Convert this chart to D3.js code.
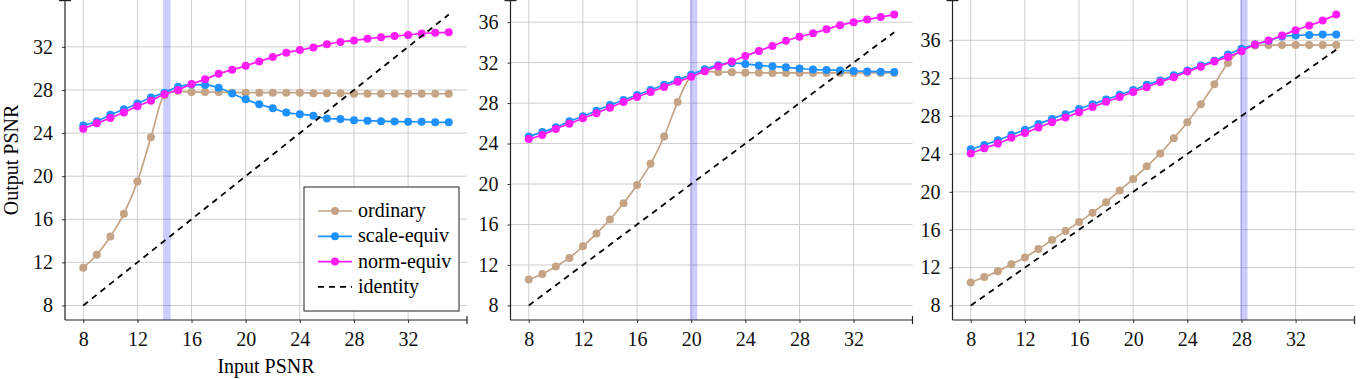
<!DOCTYPE html>
<html>
<head>
<meta charset="utf-8">
<script src="https://cdn.jsdelivr.net/npm/d3@7"></script>
<style>
  body { margin: 0; background: #fff; }
</style>
</head>
<body>
<div id="chart-container"></div>
<script>
// Input PSNR values (x axis)
var inputPsnr = [8, 9, 10, 11, 12, 13, 14, 15, 16, 17, 18, 19, 20, 21, 22, 23, 24, 25, 26, 27, 28, 29, 30, 31, 32, 33, 34, 35];
var identityX = [8, 35];
var identityY = [8, 35];

// panel 1 (trained at 14)
var ordinary1 = [11.5, 12.7, 14.4, 16.5, 19.5, 23.6, 27.5, 27.9, 27.8, 27.8, 27.8, 27.75, 27.75, 27.75, 27.75, 27.75, 27.75, 27.7, 27.7, 27.7, 27.65, 27.65, 27.65, 27.65, 27.65, 27.65, 27.65, 27.65];
var scale1 = [24.7, 25.1, 25.7, 26.2, 26.75, 27.3, 27.75, 28.3, 28.5, 28.47, 28.2, 27.68, 27.13, 26.67, 26.3, 25.9, 25.75, 25.6, 25.35, 25.3, 25.2, 25.15, 25.1, 25.07, 25.05, 25.05, 25.0, 25.0];
var norm1 = [24.4, 24.9, 25.4, 25.9, 26.5, 27.0, 27.6, 28.0, 28.55, 29.0, 29.5, 29.87, 30.25, 30.65, 31.05, 31.45, 31.7, 31.95, 32.25, 32.45, 32.6, 32.75, 32.9, 33.0, 33.1, 33.25, 33.3, 33.35];

// panel 2 (trained at 20)
var ordinary2 = [10.57, 11.1, 11.85, 12.7, 13.85, 15.1, 16.5, 18.1, 19.9, 22.0, 24.7, 28.1, 30.65, 31.15, 31.05, 31.05, 31.0, 31.0, 30.98, 30.98, 30.98, 30.98, 30.98, 30.98, 30.98, 30.98, 30.98, 30.98];
var scale2 = [24.7, 25.13, 25.6, 26.2, 26.7, 27.25, 27.8, 28.3, 28.8, 29.3, 29.8, 30.3, 30.8, 31.35, 31.75, 31.96, 31.86, 31.72, 31.63, 31.53, 31.43, 31.33, 31.27, 31.23, 31.17, 31.13, 31.1, 31.07];
var norm2 = [24.45, 24.85, 25.45, 25.95, 26.5, 27.0, 27.55, 28.1, 28.6, 29.1, 29.6, 30.1, 30.6, 31.15, 31.65, 32.1, 32.65, 33.15, 33.65, 34.15, 34.55, 34.9, 35.3, 35.7, 36.0, 36.25, 36.5, 36.75];

// panel 3 (trained at 28)
var ordinary3 = [10.43, 11.0, 11.6, 12.35, 13.07, 13.95, 14.9, 15.85, 16.8, 17.8, 18.9, 20.15, 21.35, 22.7, 24.05, 25.65, 27.35, 29.25, 31.35, 33.6, 35.0, 35.45, 35.5, 35.5, 35.5, 35.5, 35.5, 35.5];
var scale3 = [24.5, 24.95, 25.45, 26.0, 26.55, 27.15, 27.7, 28.2, 28.75, 29.25, 29.75, 30.25, 30.75, 31.3, 31.75, 32.3, 32.8, 33.35, 33.85, 34.5, 35.1, 35.55, 35.95, 36.4, 36.5, 36.57, 36.6, 36.6];
var norm3 = [24.05, 24.6, 25.1, 25.7, 26.2, 26.8, 27.35, 27.85, 28.4, 28.95, 29.5, 30.0, 30.55, 31.05, 31.6, 32.1, 32.7, 33.2, 33.75, 34.25, 34.85, 35.55, 35.97, 36.5, 37.07, 37.56, 38.08, 38.72];

var trainedAt = [14, 20, 28];
var xTicks = [8, 12, 16, 20, 24, 28, 32];
var yTicks1 = [8, 12, 16, 20, 24, 28, 32];
var yTicks2 = [8, 12, 16, 20, 24, 28, 32, 36];
var yTicks3 = [8, 12, 16, 20, 24, 28, 32, 36];

var seriesNames = ["ordinary", "scale-equiv", "norm-equiv"];
var seriesColors = ["#c4a484", "#1e90ff", "#ff1cf5"];

var serif = "Liberation Serif, DejaVu Serif, serif";
var fontSize = "20px";

var svg = d3.select("#chart-container")
    .append("svg")
    .attr("width", 1360)
    .attr("height", 379)
    .style("font-family", serif);

var panels = [
    {left: 65, series: [ordinary1, scale1, norm1], band: trainedAt[0], yTicks: yTicks1, legend: true},
    {left: 510.5, series: [ordinary2, scale2, norm2], band: trainedAt[1], yTicks: yTicks2, legend: false},
    {left: 952.5, series: [ordinary3, scale3, norm3], band: trainedAt[2], yTicks: yTicks3, legend: false}
];

var width = 402, height = 320;

panels.forEach(function(p, pi) {
    var g = svg.append("g").attr("transform", "translate(" + p.left + ",0)");

    // 5% enlarged limits, like pgfplots
    var xExt = d3.extent(inputPsnr);
    var xPad = (xExt[1] - xExt[0]) * 0.05;
    var allY = d3.merge(p.series).concat(identityY);
    var yExt = d3.extent(allY);
    var yPad = (yExt[1] - yExt[0]) * 0.05;

    var xScale = d3.scaleLinear().domain([xExt[0] - xPad, xExt[1] + xPad]).range([0, width]);
    var yScale = d3.scaleLinear().domain([yExt[0] - yPad, yExt[1] + yPad]).range([height, 0]);

    // grid
    g.append("g").selectAll("line").data(xTicks).enter().append("line")
        .attr("x1", function(d) { return xScale(d); })
        .attr("x2", function(d) { return xScale(d); })
        .attr("y1", 0).attr("y2", height)
        .attr("stroke", "#c8c8c8").attr("stroke-width", 0.9);
    g.append("g").selectAll("line").data(p.yTicks).enter().append("line")
        .attr("x1", 0).attr("x2", width)
        .attr("y1", function(d) { return yScale(d); })
        .attr("y2", function(d) { return yScale(d); })
        .attr("stroke", "#c8c8c8").attr("stroke-width", 0.9);

    // highlighted training level
    g.append("rect")
        .attr("x", xScale(p.band - 0.1))
        .attr("width", xScale(p.band + 0.45) - xScale(p.band - 0.1))
        .attr("y", 0).attr("height", height)
        .attr("fill", "#0000ff").attr("fill-opacity", 0.2);

    var line = d3.line()
        .x(function(d) { return xScale(d.x); })
        .y(function(d) { return yScale(d.y); })
        .curve(d3.curveMonotoneX);

    p.series.forEach(function(vals, si) {
        var pts = inputPsnr.map(function(x, i) { return {x: x, y: vals[i]}; });
        g.append("path")
            .datum(pts)
            .attr("fill", "none")
            .attr("stroke", seriesColors[si])
            .attr("stroke-width", 1.7)
            .attr("d", line);
        g.append("g").selectAll("circle").data(pts).enter().append("circle")
            .attr("cx", function(d) { return xScale(d.x); })
            .attr("cy", function(d) { return yScale(d.y); })
            .attr("r", 4)
            .attr("fill", seriesColors[si]);
    });

    // identity
    g.append("line")
        .attr("x1", xScale(identityX[0])).attr("y1", yScale(identityY[0]))
        .attr("x2", xScale(identityX[1])).attr("y2", yScale(identityY[1]))
        .attr("stroke", "#000").attr("stroke-width", 1.8)
        .attr("stroke-dasharray", "6,5");

    // axes
    var xAxis = g.append("g")
        .attr("transform", "translate(0," + height + ")")
        .call(d3.axisBottom(xScale).tickValues(xTicks).tickSize(3).tickPadding(9));
    var yAxis = g.append("g")
        .call(d3.axisLeft(yScale).tickValues(p.yTicks).tickSize(3).tickPadding(9));
    [xAxis, yAxis].forEach(function(a) {
        a.attr("font-family", serif).attr("font-size", 20);
        a.select(".domain").remove();
        a.selectAll("text").style("font-family", serif).style("font-size", fontSize).attr("fill", "#111");
        a.selectAll("line").attr("stroke", "#333");
    });
    g.append("line").attr("x1", 0).attr("x2", width).attr("y1", height).attr("y2", height)
        .attr("stroke", "#222").attr("stroke-width", 1.2);
    g.append("line").attr("x1", 0).attr("x2", 0).attr("y1", height).attr("y2", 0)
        .attr("stroke", "#222").attr("stroke-width", 1.2);
    // end caps
    g.append("line").attr("x1", -6).attr("x2", 6).attr("y1", 0.6).attr("y2", 0.6)
        .attr("stroke", "#222").attr("stroke-width", 1.2);
    g.append("line").attr("x1", width).attr("x2", width).attr("y1", height - 4).attr("y2", height + 4)
        .attr("stroke", "#222").attr("stroke-width", 1.2);

    if (pi === 0) {
        g.append("text")
            .attr("x", width / 2)
            .attr("y", 373)
            .attr("text-anchor", "middle")
            .style("font-family", serif)
            .style("font-size", fontSize)
            .text("Input PSNR");
        g.append("text")
            .attr("transform", "rotate(-90)")
            .attr("x", -height / 2)
            .attr("y", -47)
            .attr("text-anchor", "middle")
            .style("font-family", serif)
            .style("font-size", fontSize)
            .text("Output PSNR");
    }

    if (p.legend) {
        var lg = g.append("g").attr("transform", "translate(" + (304 - p.left) + ",187)");
        lg.append("rect")
            .attr("width", 155).attr("height", 124)
            .attr("fill", "#fff").attr("stroke", "#222").attr("stroke-width", 1);
        var entries = seriesNames.concat(["identity"]);
        entries.forEach(function(name, i) {
            var yy = 24 + i * 25.3;
            var item = lg.append("line")
                .attr("x1", 14).attr("x2", 48).attr("y1", yy).attr("y2", yy)
                .attr("stroke-width", i === 3 ? 1.8 : 1.7);
            if (i < 3) {
                item.attr("stroke", seriesColors[i]);
                lg.append("circle").attr("cx", 31).attr("cy", yy).attr("r", 4).attr("fill", seriesColors[i]);
            } else {
                item.attr("stroke", "#000").attr("stroke-dasharray", "6,5");
            }
            lg.append("text")
                .attr("x", 54).attr("y", yy + 6)
                .style("font-family", serif)
                .style("font-size", fontSize)
                .text(name);
        });
    }
});
</script>
</body>
</html>
